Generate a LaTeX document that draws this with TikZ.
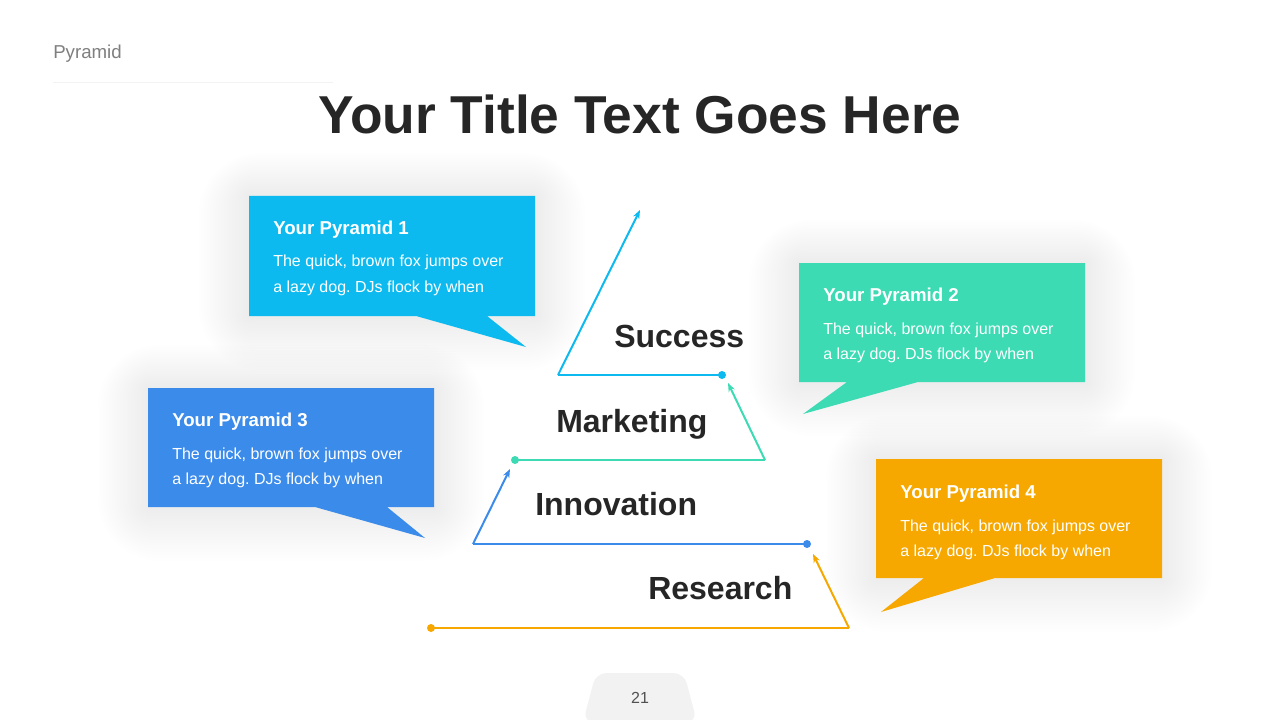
\documentclass[tikz,border=0pt]{standalone}
\usepackage{fontspec}
\setmainfont{Liberation Sans}
\frenchspacing
\usetikzlibrary{arrows.meta}
\definecolor{cyanP}{HTML}{0DBAEF}
\definecolor{tealP}{HTML}{3CDBB4}
\definecolor{blueP}{HTML}{3B8BEB}
\definecolor{orangeP}{HTML}{F6A800}
\definecolor{darktxt}{HTML}{262626}
\definecolor{graytxt}{HTML}{7F7F7F}
\definecolor{pagegray}{HTML}{F2F2F2}
\newcommand{\softshadow}[4]{%
  \foreach \k in {1,...,18}{%
    \fill[black, opacity=0.0035, rounded corners=\k*2.6pt]
      ({#1-\k*2.8},{#2-\k*2.4}) rectangle ({#3+\k*2.8},{#4+\k*3});
  }%
}
\tikzset{
  boxtitle/.style={anchor=base west, inner sep=0pt, text=white, font=\fontsize{14}{16}\selectfont\bfseries},
  boxbody/.style={anchor=base west, inner sep=0pt, text=white, font=\fontsize{12}{14}\selectfont},
  levellabel/.style={anchor=base west, inner sep=0pt, text=darktxt, font=\fontsize{24}{28}\selectfont\bfseries},
  pline/.style={line width=1.5pt, line join=miter},
  parrow/.style={line width=1.5pt, -{Stealth[length=6.5pt,width=5pt]}},
  pdot/.style={circle, inner sep=0pt, minimum size=6pt},
}
\begin{document}
\begin{tikzpicture}[x=0.75pt,y=-0.75pt]
\useasboundingbox (0,0) rectangle (1280,720);
\fill[white] (0,0) rectangle (1280,720);

% header
\node[anchor=base west, inner sep=0pt, text=graytxt, font=\fontsize{14}{16}\selectfont] (hdr) at (53,59) {Pyramid};
\coordinate (hl) at (53,83);
\coordinate (hr) at (333,83);
\draw[pagegray, line width=0.75pt] (hl) -- (hr);
\node[anchor=base, inner sep=0pt, text=darktxt, font=\fontsize{40}{46}\selectfont\bfseries] (title) at (640,134) {Your Title Text Goes Here};

% page number tab
\fill[pagegray, rounded corners=8pt] (583,722) -- (596,673) -- (684,673) -- (697,722) -- cycle;
\node[anchor=base, inner sep=0pt, text=darktxt!80, font=\fontsize{12}{14}\selectfont] (pg) at (640,703) {21};

% soft shadows
\softshadow{249}{196}{535}{316}
\softshadow{799}{263}{1085}{382}
\softshadow{148}{388}{434}{507}
\softshadow{876}{459}{1162}{578}

% callout boxes
\fill[cyanP] (249,196) -- (535,196) -- (535,316) -- (487,316) -- (526,347) -- (416,316) -- (249,316) -- cycle;
\fill[tealP] (799,263) -- (1085,263) -- (1085,382) -- (918,382) -- (803,414) -- (847,382) -- (799,382) -- cycle;
\fill[blueP] (148,388) -- (434,388) -- (434,507) -- (387,507) -- (425,538) -- (315,507) -- (148,507) -- cycle;
\fill[orangeP] (876,459) -- (1162,459) -- (1162,578) -- (995,578) -- (881,612) -- (924,578) -- (876,578) -- cycle;

\node[boxtitle] (t1) at (273,234) {Your Pyramid 1};
\node[boxbody] (b1a) at (273,267) {The quick, brown fox jumps over};
\node[boxbody] (b1b) at (273,292) {a lazy dog. DJs flock by when};

\node[boxtitle] (t2) at (823,301) {Your Pyramid 2};
\node[boxbody] (b2a) at (823,334) {The quick, brown fox jumps over};
\node[boxbody] (b2b) at (823,359) {a lazy dog. DJs flock by when};

\node[boxtitle] (t3) at (172,426) {Your Pyramid 3};
\node[boxbody] (b3a) at (172,459) {The quick, brown fox jumps over};
\node[boxbody] (b3b) at (172,484) {a lazy dog. DJs flock by when};

\node[boxtitle] (t4) at (900,498) {Your Pyramid 4};
\node[boxbody] (b4a) at (900,531) {The quick, brown fox jumps over};
\node[boxbody] (b4b) at (900,556) {a lazy dog. DJs flock by when};

% pyramid coordinates
\coordinate (s_tip) at (640,210);
\coordinate (s_bl) at (558,375);
\node[pdot, fill=cyanP] (s_dot) at (722,375) {};

\coordinate (m_br) at (765,460);
\coordinate (m_tip) at (728,383);
\node[pdot, fill=tealP] (m_dot) at (515,460) {};

\coordinate (i_bl) at (473,544);
\coordinate (i_tip) at (510,469);
\node[pdot, fill=blueP] (i_dot) at (807,544) {};

\coordinate (r_br) at (849,628);
\coordinate (r_tip) at (813,554);
\node[pdot, fill=orangeP] (r_dot) at (431,628) {};

% pyramid lines
\draw[parrow, cyanP] (s_bl) -- (s_tip);
\draw[pline, cyanP] (s_bl) -- (s_dot.center);

\draw[parrow, tealP] (m_br) -- (m_tip);
\draw[pline, tealP] (m_br) -- (m_dot.center);

\draw[parrow, blueP] (i_bl) -- (i_tip);
\draw[pline, blueP] (i_bl) -- (i_dot.center);

\draw[parrow, orangeP] (r_br) -- (r_tip);
\draw[pline, orangeP] (r_br) -- (r_dot.center);

% level labels
\node[levellabel] (success) at (614,347) {Success};
\node[levellabel] (marketing) at (556,432) {Marketing};
\node[levellabel] (innovation) at (535,515) {Innovation};
\node[levellabel] (research) at (648,599) {Research};
\end{tikzpicture}
\end{document}
